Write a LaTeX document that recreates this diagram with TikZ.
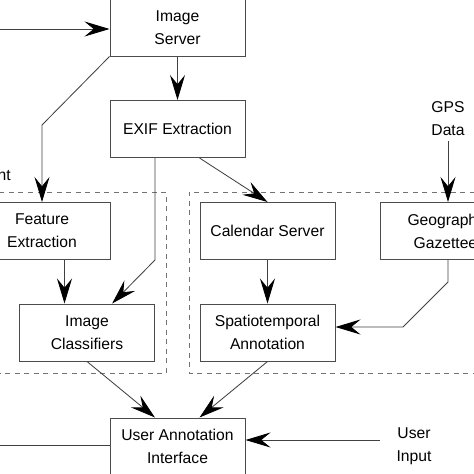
\documentclass[tikz,border=0pt]{standalone}
\usepackage{fontspec}
\setmainfont{Liberation Sans}
\usetikzlibrary{arrows.meta,calc}
\tikzset{
    box/.style={draw=black!70, line width=0.6pt, minimum width=81pt, minimum height=34.2pt,
            align=center, inner sep=0pt},
    label/.style={align=center, inner sep=3pt},
    arr/.style={draw=black!75, line width=0.5pt,
            -{Stealth[length=15pt, width=9pt, inset=5.5pt, black]}},
    line/.style={draw=black!75, line width=0.5pt},
    group/.style={draw=black!55, line width=0.6pt, dash pattern=on 3pt off 2.7pt},
}

\begin{document}
\begin{tikzpicture}[x=0.6pt, y=-0.6pt, font=\fontsize{9.4}{13.8}\selectfont]
        \useasboundingbox (0,0) rectangle (474,474);
        %processing boxes
        \node[box] (img) at (177.5,27.5) {Image\\Server};
        \node[box] (exif) at (177.5,129) {EXIF Extraction};
        \node[box, minimum width=81.6pt] (fe) at (42,231) {Feature\\Extraction};
        \node[box] (ic) at (87,332.5) {Image\\Classifiers};
        \node[box] (cal) at (267.5,231) {Calendar Server};
        \node[box] (sp) at (267.5,332.5) {Spatiotemporal\\Annotation};
        \node[box] (geo) at (448,231) {Geographic\\Gazetteer};
        \node[box] (ua) at (177.5,446.5) {User Annotation\\Interface};
        %outside inputs
        \node[label] (gps) at (448,119) {GPS\\Data};
        \node[label, inner xsep=10pt] (ui) at (414,446) {User\\Input};
        \node[anchor=east, inner sep=0pt] (grp) at (11,175) {nt};
        %dashed groups
        \draw[group] (-10,192) -- (166,192) -- (166,373) -- (-10,373);
        \draw[group] (484,192) -- (189,192) -- (189,373) -- (484,373);
        %free ends and bends
        \coordinate (in) at (-10,29);
        \coordinate (out) at (-10,445);
        \coordinate (b1) at (42,125);
        \coordinate (g1) at (448,282);
        \coordinate (g2) at (403,327);
        \coordinate (m) at ($(fe.south)!0.5!(ic.north)$);
        %connectors
        \draw[arr] (in) -- (in -| img.west);
        \draw[arr] (img.south west) -- (b1) -- (fe.north);
        \draw[arr] (img.south) -- (exif.north);
        \draw[arr] (ic.east |- exif.south) -- (ic.east |- fe.south)
            -- ($(ic.north)!0.37!(ic.north east)$);
        \draw[arr] (exif.south -| cal.west) -- (cal.north);
        \draw[arr] (m |- fe.south) -- (m |- ic.north);
        \draw[arr] (cal.south) -- (sp.north);
        \draw[arr] (gps.south) -- (geo.north);
        \draw[arr] (geo.south) -- (g1) -- (g2) -- (g2 -| sp.east);
        \draw[arr] (ic.south) -- (ua.north -| ic.east);
        \draw[arr] (sp.south) -- (ua.north -| cal.west);
        \draw[arr] ([yshift=3.6pt]ui.west) -- ([yshift=3.6pt]ui.west -| ua.east);
        \draw[line] (ua.west |- out) -- (out);
    \end{tikzpicture}
\end{document}
